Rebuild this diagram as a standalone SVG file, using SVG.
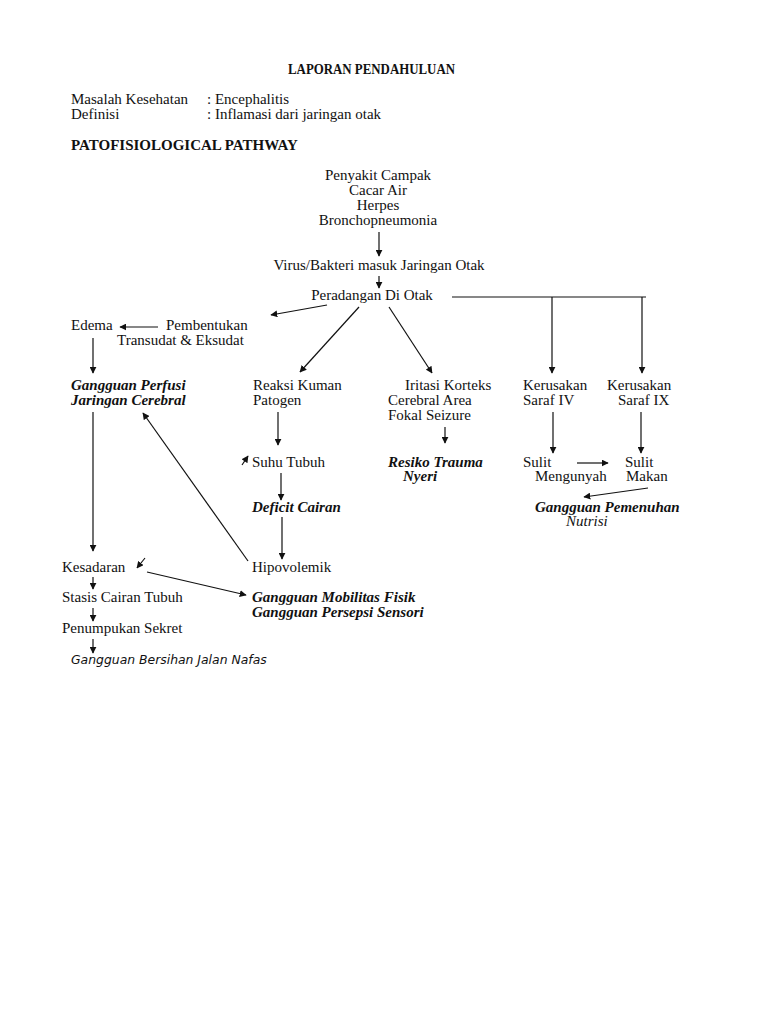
<svg xmlns="http://www.w3.org/2000/svg" width="768" height="1024" viewBox="0 0 768 1024">
<style>
text{font-family:"Liberation Serif","Times New Roman",serif;font-size:15px;fill:#111}
.t{font-weight:bold;font-size:14.5px}
.b{font-weight:bold}
.bi{font-weight:bold;font-style:italic}
.i{font-style:italic}
.si{font-family:"DejaVu Sans","Liberation Sans",sans-serif;font-style:italic;font-size:12.4px}
.c{text-anchor:middle}
line{stroke:#111;stroke-width:1.2;fill:none}
</style>
<defs>
<marker id="ah" viewBox="0 0 10 10" refX="9" refY="5" markerWidth="7" markerHeight="7" markerUnits="userSpaceOnUse" orient="auto">
<path d="M0,0 L10,5 L0,10 z" fill="#111"/>
</marker>
</defs>
<rect width="768" height="1024" fill="#fff"/>

<g id="header">
<text class="t" x="288" y="74" textLength="167" lengthAdjust="spacingAndGlyphs">LAPORAN PENDAHULUAN</text>
<text x="71" y="104">Masalah Kesehatan</text>
<text x="207" y="104">: Encephalitis</text>
<text x="71" y="119">Definisi</text>
<text x="207" y="119">: Inflamasi dari jaringan otak</text>
<text class="b" x="71" y="150">PATOFISIOLOGICAL PATHWAY</text>
</g>

<g id="n-penyakit">
<text class="c" x="378" y="180">Penyakit Campak</text>
<text class="c" x="378" y="195">Cacar Air</text>
<text class="c" x="378" y="210">Herpes</text>
<text class="c" x="378" y="225">Bronchopneumonia</text>
</g>
<g id="n-virus"><text class="c" x="379" y="270">Virus/Bakteri masuk Jaringan Otak</text></g>
<g id="n-peradangan"><text class="c" x="372" y="300">Peradangan Di Otak</text></g>
<g id="n-edema"><text x="71" y="330">Edema</text></g>
<g id="n-pembentukan">
<text x="166" y="330">Pembentukan</text>
<text x="117" y="345">Transudat &amp; Eksudat</text>
</g>
<g id="n-perfusi">
<text class="bi" x="71" y="390">Gangguan Perfusi</text>
<text class="bi" x="71" y="405">Jaringan Cerebral</text>
</g>
<g id="n-reaksi">
<text x="253" y="390">Reaksi Kuman</text>
<text x="253" y="405">Patogen</text>
</g>
<g id="n-iritasi">
<text x="405" y="390">Iritasi Korteks</text>
<text x="388" y="405">Cerebral Area</text>
<text x="388" y="420">Fokal Seizure</text>
</g>
<g id="n-saraf4">
<text x="523" y="390">Kerusakan</text>
<text x="523" y="405">Saraf IV</text>
</g>
<g id="n-saraf9">
<text x="607" y="390">Kerusakan</text>
<text x="618" y="405">Saraf IX</text>
</g>
<g id="n-suhu"><text x="252" y="467">Suhu Tubuh</text></g>
<g id="n-resiko">
<text class="bi" x="388" y="467">Resiko Trauma</text>
<text class="bi" x="403" y="481">Nyeri</text>
</g>
<g id="n-mengunyah">
<text x="523" y="467">Sulit</text>
<text x="535" y="481">Mengunyah</text>
</g>
<g id="n-makan">
<text x="625" y="467">Sulit</text>
<text x="626" y="481">Makan</text>
</g>
<g id="n-nutrisi">
<text class="bi" x="535" y="512">Gangguan Pemenuhan</text>
<text class="i" x="566" y="526">Nutrisi</text>
</g>
<g id="n-deficit"><text class="bi" x="252" y="512">Deficit Cairan</text></g>
<g id="n-hipovolemik"><text x="252" y="572">Hipovolemik</text></g>
<g id="n-kesadaran"><text x="62" y="572">Kesadaran</text></g>
<g id="n-mobilitas">
<text class="bi" x="252" y="602">Gangguan Mobilitas Fisik</text>
<text class="bi" x="252" y="617">Gangguan Persepsi Sensori</text>
</g>
<g id="n-stasis"><text x="62" y="602">Stasis Cairan Tubuh</text></g>
<g id="n-sekret"><text x="62" y="633">Penumpukan Sekret</text></g>
<g id="n-bersihan"><text class="si" x="71" y="664">Gangguan Bersihan Jalan Nafas</text></g>

<g id="connectors">
<line x1="379" y1="232" x2="379" y2="256" marker-end="url(#ah)"/>
<line x1="379" y1="276" x2="379" y2="288" marker-end="url(#ah)"/>
<line x1="327" y1="305" x2="271" y2="315" marker-end="url(#ah)"/>
<line x1="359" y1="307" x2="300" y2="372" marker-end="url(#ah)"/>
<line x1="389" y1="307" x2="432" y2="373" marker-end="url(#ah)"/>
<line x1="452" y1="297" x2="646" y2="297"/>
<line x1="552" y1="297" x2="552" y2="373" marker-end="url(#ah)"/>
<line x1="642" y1="297" x2="642" y2="373" marker-end="url(#ah)"/>
<line x1="158" y1="327" x2="120" y2="327" marker-end="url(#ah)"/>
<line x1="93" y1="338" x2="93" y2="373" marker-end="url(#ah)"/>
<line x1="278" y1="412" x2="278" y2="445" marker-end="url(#ah)"/>
<line x1="445" y1="427" x2="445" y2="443" marker-end="url(#ah)"/>
<line x1="553" y1="412" x2="553" y2="453" marker-end="url(#ah)"/>
<line x1="641" y1="412" x2="641" y2="453" marker-end="url(#ah)"/>
<line x1="242" y1="465" x2="248" y2="456" marker-end="url(#ah)"/>
<line x1="577" y1="463" x2="608" y2="463" marker-end="url(#ah)"/>
<line x1="648" y1="488" x2="584" y2="497" marker-end="url(#ah)"/>
<line x1="281" y1="473" x2="281" y2="500" marker-end="url(#ah)"/>
<line x1="282" y1="517" x2="282" y2="559" marker-end="url(#ah)"/>
<line x1="248" y1="561" x2="143" y2="413" marker-end="url(#ah)"/>
<line x1="93" y1="412" x2="93" y2="551" marker-end="url(#ah)"/>
<line x1="145" y1="558" x2="137" y2="568" marker-end="url(#ah)"/>
<line x1="147" y1="572" x2="246" y2="595" marker-end="url(#ah)"/>
<line x1="93" y1="577" x2="93" y2="589" marker-end="url(#ah)"/>
<line x1="93" y1="608" x2="93" y2="621" marker-end="url(#ah)"/>
<line x1="93" y1="639" x2="93" y2="653" marker-end="url(#ah)"/>
</g>
</svg>
